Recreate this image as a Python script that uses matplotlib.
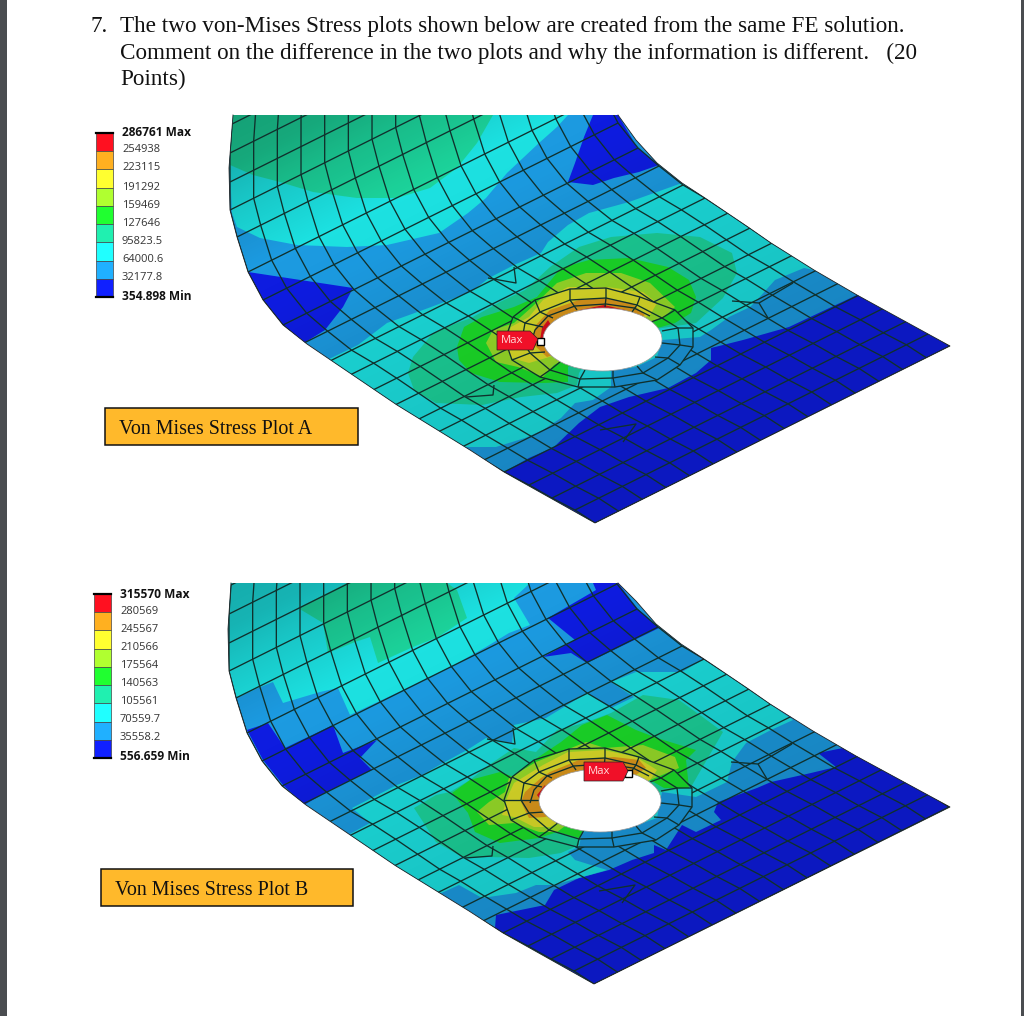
#!/usr/bin/env python
"""Von Mises stress contour plots A and B, redrawn from a screenshot (out.png)."""

import matplotlib

matplotlib.use("Agg")
import matplotlib.pyplot as plt
import numpy as np
from matplotlib.collections import LineCollection
from matplotlib.patches import Ellipse, Polygon, Rectangle
from matplotlib.path import Path

W, H = 1024, 1016

question_number = "7."
question_lines = [
    "The two von-Mises Stress plots shown below are created from the same FE solution.",
    "Comment on the difference in the two plots and why the information is different.   (20",
    "Points)",
]
question_y = [32, 59, 85]

labels_a = ["286761 Max", "254938", "223115", "191292", "159469", "127646",
            "95823.5", "64000.6", "32177.8", "354.898 Min"]
labels_b = ["315570 Max", "280569", "245567", "210566", "175564", "140563",
            "105561", "70559.7", "35558.2", "556.659 Min"]
label_y_a = [133, 150, 168, 187, 205, 223, 241, 259, 277, 296]
label_y_b = [594, 611, 629, 648, 666, 683, 702, 720, 738, 757]

# legend colours, top to bottom
level_colors = ["#ff1020", "#ffb020", "#ffff30", "#b0ff30", "#20ff30",
                "#20f0b0", "#20ffff", "#20b0ff", "#1020ff"]
RED, ORANGE, YELLOW, LIME, GREEN, TEAL, CYAN, BLUE, DEEP = level_colors

# left edge of the plate, bottom to top; the mesh repeats it along mesh_step
mesh_left = [(595, 523), (575, 510), (552, 498), (529, 485), (504, 472), (484, 460),
             (462, 447), (438, 432), (417, 420), (395, 405), (373, 390), (350, 375),
             (328, 362), (304, 343), (283, 325), (263, 300), (248, 272), (237, 237),
             (230, 210), (230, 182), (230, 153), (232, 124)]
mesh_step = (23.67, -11.8)
mesh_columns = 16

# brightness across the bend of the plate
shade_q = [100, 165, 210, 280, 330, 400, 500, 700]
shade_f = [0.66, 0.70, 0.78, 0.88, 0.87, 0.81, 0.78, 0.75]

plate_a = [(233, 115), (618, 115), (636, 140), (657, 163), (682, 183), (705, 198), (748, 227),
           (771, 243), (814, 270), (857, 295), (950, 346), (595, 523), (504, 472), (470, 450),
           (397, 405), (307, 344), (283, 325), (263, 300), (248, 272), (237, 237), (230, 210),
           (229, 168)]
plate_b = [(231, 583), (618, 583), (636, 601), (656, 624), (681, 644), (704, 659), (747, 688),
           (770, 704), (813, 731), (856, 756), (950, 807), (594, 984), (503, 933), (469, 911),
           (396, 866), (306, 805), (282, 786), (262, 761), (247, 733), (236, 698), (229, 671),
           (228, 629)]

# contour regions, painted low to high over a blue plate
regions_a = [
    (DEEP, [(248, 272), (353, 288), (343, 307), (325, 330), (304, 343), (283, 325), (263, 300)]),
    (DEEP, [(593, 115), (584, 137), (575, 163), (568, 182), (593, 185), (614, 178), (639, 172),
            (659, 165), (637, 147), (618, 115)]),
    (DEEP, [(857, 295), (789, 327), (743, 340), (711, 348), (711, 360), (696, 373), (668, 388),
            (629, 397), (600, 407), (579, 423), (554, 447), (529, 458), (504, 472), (595, 523),
            (950, 346)]),
    (CYAN, [(229, 150), (232, 213), (237, 227), (260, 238), (297, 245), (347, 247), (387, 245),
            (439, 233), (468, 213), (486, 198), (507, 173), (539, 143), (557, 127), (568, 115),
            (233, 115)]),
    (CYAN, [(327, 360), (358, 345), (387, 323), (423, 310), (471, 292), (489, 278), (514, 265),
            (541, 253), (548, 242), (568, 225), (589, 213), (629, 202), (682, 183), (705, 198),
            (748, 227), (771, 243), (814, 270), (804, 268), (775, 280), (757, 300), (750, 307),
            (729, 317), (711, 330), (700, 337), (662, 340), (657, 357), (636, 367), (611, 370),
            (611, 387), (593, 400), (575, 403), (561, 418), (543, 430), (525, 438), (496, 447),
            (462, 447)]),
    (TEAL, [(230, 165), (253, 175), (280, 182), (313, 192), (357, 198), (397, 198), (430, 188),
            (457, 168), (477, 143), (493, 115), (233, 115)]),
    (TEAL, [(408, 373), (413, 357), (433, 333), (457, 323), (471, 318), (500, 302), (525, 290),
            (550, 267), (579, 247), (611, 237), (657, 233), (700, 237), (732, 253), (737, 273),
            (723, 298), (696, 323), (662, 328), (600, 340), (579, 373), (577, 385), (557, 393),
            (521, 397), (482, 405), (436, 403), (414, 390)]),
    (GREEN, [(457, 347), (464, 327), (482, 317), (514, 307), (537, 297), (561, 268), (589, 260),
             (629, 258), (668, 267), (689, 280), (696, 297), (691, 313), (675, 323), (661, 327),
             (600, 340), (568, 367), (568, 382), (543, 383), (500, 382), (471, 373), (459, 360)]),
    (LIME, [(486, 343), (493, 330), (514, 323), (532, 307), (557, 283), (586, 273), (621, 273),
            (650, 283), (675, 307), (664, 317), (600, 340), (554, 365), (543, 377), (518, 367),
            (496, 362)]),
    (YELLOW, [(505, 343), (511, 327), (529, 317), (543, 300), (568, 287), (607, 287), (643, 292),
              (657, 303), (650, 315), (600, 340), (546, 358), (529, 363), (511, 358)]),
    (ORANGE, [(532, 343), (536, 325), (550, 310), (579, 300), (604, 298), (632, 303), (645, 315),
              (600, 340), (547, 357)]),
    (RED, [(580, 310), (604, 305), (625, 310), (604, 330)]),
    (RED, [(540, 340), (542, 328), (548, 320), (560, 340)]),
]

regions_b = [
    (DEEP, [(247, 730), (268, 723), (285, 748), (333, 725), (343, 753), (377, 740), (360, 758),
            (372, 770), (325, 793), (304, 805), (283, 785), (263, 760)]),
    (DEEP, [(593, 583), (596, 590), (548, 618), (575, 640), (543, 657), (571, 653), (587, 663),
            (659, 628), (637, 608), (618, 583)]),
    (DEEP, [(843, 748), (818, 753), (836, 767), (811, 773), (771, 782), (757, 788), (718, 802),
            (714, 812), (721, 820), (696, 832), (682, 825), (666, 850), (654, 845), (654, 853),
            (632, 860), (609, 870), (579, 878), (554, 890), (545, 905), (496, 915), (495, 928),
            (594, 984), (950, 807)]),
    (CYAN, [(228, 583), (229, 672), (237, 698), (258, 688), (273, 682), (283, 703), (320, 692),
            (338, 688), (350, 715), (403, 690), (427, 678), (454, 665), (486, 647), (509, 633),
            (530, 625), (514, 598), (530, 583)]),
    (CYAN, [(348, 835), (370, 823), (352, 808), (397, 785), (422, 775), (443, 763), (467, 750),
            (486, 738), (512, 743), (514, 725), (546, 718), (564, 707), (587, 693), (611, 708),
            (634, 697), (611, 682), (636, 672), (682, 672), (704, 659), (747, 688), (770, 704),
            (793, 720), (771, 730), (746, 743), (732, 762), (727, 782), (696, 797), (662, 792),
            (657, 818), (643, 823), (582, 832), (579, 847), (568, 852), (575, 860), (607, 870),
            (579, 878), (554, 885), (536, 885), (516, 893), (482, 898), (459, 885), (437, 895),
            (395, 866)]),
    (TEAL, [(347, 583), (298, 608), (323, 623), (328, 653), (355, 642), (370, 637), (378, 663),
            (413, 647), (438, 637), (467, 618), (457, 590), (447, 583)]),
    (TEAL, [(414, 808), (436, 795), (450, 792), (470, 780), (489, 765), (514, 748), (536, 752),
            (557, 730), (584, 723), (611, 713), (643, 695), (679, 700), (704, 718), (723, 732),
            (691, 787), (662, 792), (600, 800), (579, 835), (579, 845), (561, 853), (529, 858),
            (489, 857), (464, 858), (436, 842)]),
    (GREEN, [(452, 793), (470, 780), (500, 772), (514, 777), (534, 760), (561, 742), (582, 725),
             (607, 715), (636, 730), (657, 738), (696, 750), (686, 760), (689, 788), (664, 788),
             (650, 780), (600, 800), (579, 838), (557, 832), (539, 838), (500, 843), (475, 832),
             (468, 813)]),
    (LIME, [(477, 812), (489, 802), (505, 792), (509, 778), (536, 762), (561, 752), (586, 742),
            (605, 748), (643, 745), (675, 757), (679, 768), (650, 780), (600, 800), (557, 832),
            (539, 832), (514, 823), (489, 825)]),
    (YELLOW, [(502, 815), (507, 798), (514, 783), (543, 765), (568, 752), (604, 750), (636, 757),
              (657, 770), (650, 780), (600, 800), (550, 827), (534, 827), (514, 817)]),
    (ORANGE, [(521, 802), (525, 792), (541, 778), (550, 772), (579, 760), (614, 757), (639, 760),
              (646, 768), (600, 800), (545, 817), (529, 818)]),
    (RED, [(537, 795), (545, 785), (552, 800), (543, 803)]),
]

# mesh rings around the hole, clockwise from the left
ring_outer = [(513, 317), (535, 300), (570, 289), (606, 288), (640, 297), (675, 310), (693, 328),
              (693, 347), (680, 365), (657, 380), (615, 387), (578, 387), (540, 377), (512, 360),
              (505, 340)]
ring_mid = [(525, 323), (540, 312), (570, 300), (606, 298), (637, 305), (662, 318), (678, 328),
            (680, 345), (668, 358), (643, 373), (613, 378), (580, 379), (550, 370), (530, 353),
            (522, 340)]
ring_hole = [(543, 327), (553, 318), (577, 310), (605, 307), (632, 312), (651, 322), (662, 331),
             (662, 343), (655, 357), (637, 366), (613, 370), (585, 370), (560, 362), (545, 352),
             (542, 340)]
ring_third = [(531, 343), (535, 330), (548, 316), (575, 306), (606, 304), (634, 308), (650, 316)]
# irregular elements that break the regular mesh
extra_mesh = [
    [(488, 278), (516, 283), (514, 267)],
    [(466, 397), (493, 395), (494, 385)],
    [(732, 301), (759, 303), (768, 318)],
    [(759, 303), (793, 283)],
    [(600, 430), (636, 424), (623, 442)],
]

hole_a = (602.5, 339.5, 119, 63)
hole_b = (600, 800.5, 122, 63)
max_tag_a = [(497, 331), (530, 331), (538, 339), (533, 350), (497, 350)]
max_tag_b = [(584, 762), (623, 762), (628, 771), (623, 781), (584, 781)]


def signed_area(points):
    pts = np.asarray(points, dtype=float)
    x, y = pts[:, 0], pts[:, 1]
    return 0.5 * np.sum(x * np.roll(y, -1) - np.roll(x, -1) * y)


def closed_path(points):
    pts = np.asarray(points, dtype=float)
    codes = [Path.MOVETO] + [Path.LINETO] * (len(pts) - 1) + [Path.CLOSEPOLY]
    return Path(np.vstack([pts, pts[0]]), codes)


def draw_model(ax, plate, regions, hole, ring_shift, mesh_shift, top_y):
    plate_patch = Polygon(plate, closed=True, facecolor=BLUE, edgecolor="none", zorder=1)
    ax.add_patch(plate_patch)

    for color, points in regions:
        patch = Polygon(points, closed=True, facecolor=color, edgecolor="none", zorder=2)
        ax.add_patch(patch)
        patch.set_clip_path(plate_patch)

    # darken by the bend of the plate, lines of equal shade follow the mesh rows
    xx, yy = np.meshgrid(np.arange(200, 980), np.arange(top_y - 5, top_y + 425))
    q = (yy - mesh_shift[1]) + 0.5 * (xx - 230)
    rgba = np.zeros(xx.shape + (4,))
    rgba[..., 3] = 1 - np.interp(q, shade_q, shade_f)
    img = ax.imshow(rgba, extent=(199.5, 979.5, top_y + 424.5, top_y - 5.5),
                    aspect="auto", zorder=3, interpolation="nearest")
    img.set_clip_path(plate_patch)

    outer = np.asarray(ring_outer, dtype=float) + ring_shift
    mid = np.asarray(ring_mid, dtype=float) + ring_shift
    inner = np.asarray(ring_hole, dtype=float) + ring_shift
    third = np.asarray(ring_third, dtype=float) + ring_shift

    plate_pts = np.asarray(plate, dtype=float)
    cut = outer[::-1] if signed_area(plate_pts) * signed_area(outer) > 0 else outer
    clip = Path.make_compound_path(closed_path(plate_pts), closed_path(cut))

    left = np.asarray(mesh_left, dtype=float) + mesh_shift
    nodes = np.stack([left + j * np.asarray(mesh_step) for j in range(mesh_columns)], axis=1)
    segments = [nodes[i, :, :] for i in range(nodes.shape[0])]
    segments += [nodes[:, j, :] for j in range(nodes.shape[1])]
    grid = LineCollection(segments, colors="#10302c", linewidths=0.95, zorder=4)
    ax.add_collection(grid)
    grid.set_clip_path(clip, ax.transData)

    extras = LineCollection([np.asarray(s, dtype=float) + mesh_shift for s in extra_mesh],
                            colors="#10302c", linewidths=0.95, zorder=4)
    ax.add_collection(extras)

    # rings and spokes
    loops = [np.vstack([outer, outer[0]]), np.vstack([mid, mid[0]]), third]
    spokes = [np.array([outer[i], mid[i], inner[i]]) for i in range(len(outer))]
    rings = LineCollection(loops + spokes, colors="#10302c", linewidths=0.95, zorder=4)
    ax.add_collection(rings)

    cx, cy, w, h = hole
    ax.add_patch(Ellipse((cx, cy), w, h, facecolor="white", edgecolor="#999999", lw=0.5, zorder=5))

    # plate edge, no line on the cut at the top
    edge = np.vstack([plate_pts[1:], plate_pts[0]])
    ax.plot(edge[:, 0], edge[:, 1], color="#222222", lw=0.6, zorder=6)


def draw_legend(ax, x0, x1, y0, y1, labels, label_y):
    n = len(level_colors)
    edges = np.linspace(y0, y1, n + 1)
    for i, color in enumerate(level_colors):
        ax.add_patch(Rectangle((x0, edges[i]), x1 - x0, edges[i + 1] - edges[i],
                               facecolor=color, edgecolor="#444444", lw=0.5, zorder=7))
    ax.plot([x0, x1], [y0, y0], color="black", lw=1.6, zorder=8)
    ax.plot([x0, x1], [y1, y1], color="black", lw=1.6, zorder=8)
    for i, (text, y) in enumerate(zip(labels, label_y)):
        bold = i in (0, len(labels) - 1)
        ax.text(x1 + 9, y, text, ha="left", va="center", fontsize=8.6 if bold else 8.0,
                family="Open Sans", fontweight="bold" if bold else "normal",
                color="#111111" if bold else "#333333", zorder=8)


def draw_max_tag(ax, points, box):
    ax.add_patch(Rectangle(box, 7, 6.5, facecolor="white", edgecolor="black", lw=1.0, zorder=8))
    ax.add_patch(Polygon(points, closed=True, facecolor="#f01028", edgecolor="#222222", lw=0.5, zorder=9))
    x0 = points[0][0]
    y_mid = (points[0][1] + points[-1][1]) / 2
    ax.text(x0 + 4, y_mid + 0.3, "Max", color="#ffd8d8", fontsize=8.2, family="Open Sans",
            ha="left", va="center", zorder=10)


def draw_caption(ax, x, y, w, h, text):
    ax.add_patch(Rectangle((x, y), w, h, facecolor="#ffb92b", edgecolor="#111111", lw=1.1, zorder=7))
    ax.text(x + 14, y + 26, text, fontsize=14.4, family="Liberation Serif",
            ha="left", va="baseline", color="#111111", zorder=8)


def main():
    fig = plt.figure(figsize=(W / 100, H / 100), dpi=100, facecolor="white")
    ax = fig.add_axes([0, 0, 1, 1])

    draw_model(ax, plate_a, regions_a, hole_a, (0, 0), (0, 0), 115)
    draw_model(ax, plate_b, regions_b, hole_b, (-1, 460), (-1, 461), 583)

    ax.set_xlim(0, W)
    ax.set_ylim(H, 0)
    ax.axis("off")

    # window edges of the screenshot
    ax.add_patch(Rectangle((0, 0), 7, H, facecolor="#4a4d50", edgecolor="none", zorder=20))
    ax.add_patch(Rectangle((1021, 0), 3, H, facecolor="#4a4d50", edgecolor="none", zorder=20))

    ax.text(91, question_y[0], question_number, fontsize=16.7, family="Liberation Serif",
            ha="left", va="baseline", color="#111111")
    for text, y in zip(question_lines, question_y):
        ax.text(120, y, text, fontsize=16.7, family="Liberation Serif", ha="left", va="baseline",
                color="#111111")

    draw_legend(ax, 96, 113, 133, 297, labels_a, label_y_a)
    draw_legend(ax, 94, 111, 594, 758, labels_b, label_y_b)
    draw_max_tag(ax, max_tag_a, (537, 338))
    draw_max_tag(ax, max_tag_b, (625, 770))
    draw_caption(ax, 105, 408, 253, 37, "Von Mises Stress Plot A")
    draw_caption(ax, 101, 869, 252, 37, "Von Mises Stress Plot B")

    fig.savefig("out.png", dpi=100, facecolor="white")
    plt.close(fig)


if __name__ == "__main__":
    main()
